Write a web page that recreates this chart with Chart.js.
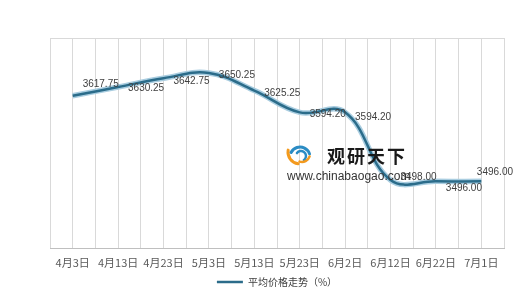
<!DOCTYPE html>
<html>
<head>
<meta charset="utf-8">
<script src="https://cdn.jsdelivr.net/npm/chart.js@4/dist/chart.umd.min.js"></script>
<style>
  html, body { margin: 0; padding: 0; background: #fff; }
  #wrap { width: 520px; height: 299px; }
</style>
</head>
<body>
<div id="wrap"><canvas id="priceChart" width="520" height="299"></canvas></div>
<script>
// data
const dates = ["4月3日", "4月13日", "4月23日", "5月3日", "5月13日", "5月23日", "6月2日", "6月12日", "6月22日", "7月1日"];
const avgPrice = [3617.75, 3630.25, 3642.75, 3650.25, 3625.25, 3594.20, 3594.20, 3498.00, 3496.00, 3496.00];
const seriesName = "平均价格走势（%）";

// label nudges (Excel placed them a bit unevenly)
const labelDy = [-12, 1, 3, 2, 3, 2, 5, -3, 7, -9];

const points = avgPrice.map((v, i) => ({ x: i, y: v }));

// draws the value labels, plot border and the watermark
const extras = {
  id: "extras",
  beforeDatasetsDraw(chart) {
    const { ctx, chartArea: a } = chart;
    ctx.save();
    ctx.strokeStyle = "#d9d9d9";
    ctx.lineWidth = 1;
    ctx.beginPath();
    ctx.moveTo(a.left, a.top + 0.5);
    ctx.lineTo(a.right, a.top + 0.5);
    ctx.stroke();
    ctx.restore();
  },
  afterDatasetsDraw(chart) {
    const { ctx } = chart;
    const meta = chart.getDatasetMeta(0);
    ctx.save();
    ctx.font = "10px 'Liberation Sans'";
    ctx.fillStyle = "#404040";
    ctx.textAlign = "center";
    ctx.textBaseline = "middle";
    meta.data.forEach((pt, i) => {
      const txt = avgPrice[i].toFixed(2);
      const w = ctx.measureText(txt).width;
      let cx = pt.x + 28;
      if (cx + w / 2 > 513) cx = 513 - w / 2;
      ctx.fillText(txt, cx, pt.y + labelDy[i]);
    });
    ctx.restore();

    // watermark
    ctx.save();
    ctx.lineCap = "round";
    ctx.lineWidth = 3;
    ctx.strokeStyle = "#f39a1e";
    ctx.beginPath();
    ctx.arc(300, 152, 12, Math.PI * 0.55, Math.PI * 1.05);
    ctx.stroke();
    ctx.strokeStyle = "#2b8cc4";
    ctx.beginPath();
    ctx.arc(300, 157, 10, Math.PI * 1.15, Math.PI * 1.9);
    ctx.stroke();
    ctx.lineWidth = 2.5;
    ctx.beginPath();
    ctx.arc(301, 156, 5, Math.PI * 1.2, Math.PI * 2.3);
    ctx.stroke();
    ctx.strokeStyle = "#f39a1e";
    ctx.beginPath();
    ctx.arc(302, 154, 8, Math.PI * 0.1, Math.PI * 0.6);
    ctx.stroke();
    ctx.fillStyle = "#1a1a1a";
    ctx.textBaseline = "middle";
    ctx.textAlign = "left";
    ctx.font = "bold 18px 'Noto Sans CJK SC'";
    ctx.letterSpacing = "2px";
    ctx.fillText("观研天下", 327, 156);
    ctx.letterSpacing = "0px";
    ctx.fillStyle = "#333";
    ctx.font = "12px 'Liberation Sans'";
    ctx.fillText("www.chinabaogao.com", 287, 177);
    ctx.restore();
  }
};

new Chart(document.getElementById("priceChart"), {
  type: "line",
  data: {
    datasets: [
      {
        label: seriesName,
        data: points,
        borderColor: "#2b6c8a",
        borderWidth: 2.5,
        tension: 0.4,
        pointRadius: 0,
        fill: false,
        order: 0
      },
      {
        label: "_glow",
        data: points,
        borderColor: "#a9cde0",
        borderWidth: 5.5,
        tension: 0.4,
        pointRadius: 0,
        fill: false,
        order: 1
      }
    ]
  },
  options: {
    responsive: false,
    animation: false,
    layout: { padding: { left: 50, right: 16, top: 38, bottom: 2 } },
    plugins: {
      tooltip: { enabled: false },
      legend: {
        position: "bottom",
        labels: {
          filter: (item) => item.datasetIndex === 0,
          usePointStyle: true,
          pointStyle: "line",
          pointStyleWidth: 26,
          color: "#404040",
          font: { size: 10, family: "'Noto Sans CJK SC'" },
          padding: 1
        }
      }
    },
    scales: {
      x: {
        type: "linear",
        min: -0.5,
        max: 9.5,
        grid: { color: "#d9d9d9", drawTicks: false },
        border: { color: "#bfbfbf" },
        ticks: {
          stepSize: 0.5,
          autoSkip: false,
          maxRotation: 0,
          padding: 7,
          color: "#595959",
          font: { size: 11, family: "'Noto Sans CJK SC'" },
          callback: (v) => (Number.isInteger(v) ? dates[v] : "")
        }
      },
      y: {
        display: false,
        min: 3400,
        max: 3700
      }
    }
  },
  plugins: [extras]
});
</script>
</body>
</html>
